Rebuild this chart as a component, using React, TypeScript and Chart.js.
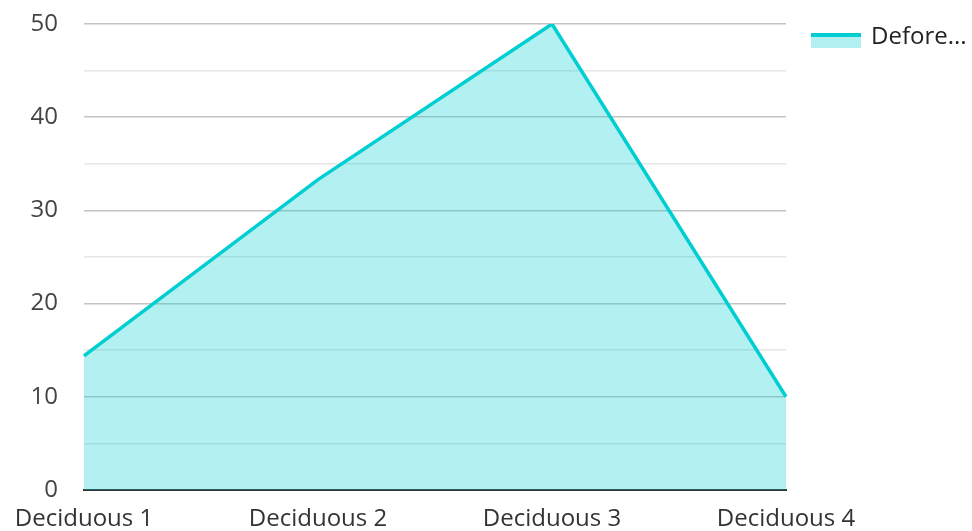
import React, { useEffect, useRef } from "react";
import { Chart, registerables } from "chart.js";

Chart.register(...registerables);

const categories = ["Deciduous 1", "Deciduous 2", "Deciduous 3", "Deciduous 4"];
const seriesName = "Defore...";
const seriesValues = [14.4, 33.3, 50, 10];
const yMin = 0;
const yMax = 50;
const yStep = 5;
const yLabelStep = 10;

const FONT = "'Open Sans', 'Noto Sans', sans-serif";
const LINE = "#00CED1";
const FILL = "rgba(0, 206, 209, 0.3)";

const legendPlugin = {
  id: "customLegend",
  afterDraw(chart: any) {
    const ctx = chart.ctx;
    const x = 811;
    const y = 33;
    ctx.save();
    ctx.fillStyle = FILL;
    ctx.fillRect(x, y, 50, 15);
    ctx.fillStyle = LINE;
    ctx.fillRect(x, y, 50, 4);
    ctx.fillStyle = "#222";
    ctx.font = `24px ${FONT}`;
    ctx.textBaseline = "middle";
    ctx.textAlign = "left";
    ctx.fillText(seriesName, x + 60, 37);
    ctx.restore();
  },
};

export default function App() {
  const ref = useRef<HTMLCanvasElement | null>(null);
  useEffect(() => {
    if (!ref.current) return;
    const chart = new Chart(ref.current, {
      type: "line",
      data: {
        labels: categories,
        datasets: [
          {
            label: seriesName,
            data: seriesValues,
            borderColor: LINE,
            backgroundColor: FILL,
            borderWidth: 3.5,
            fill: "origin",
            pointRadius: 0,
            tension: 0,
          },
        ],
      },
      options: {
        animation: false,
        responsive: true,
        maintainAspectRatio: false,
        layout: { padding: { top: 24, right: 186, left: 0, bottom: 0 } },
        plugins: { legend: { display: false }, tooltip: { enabled: false } },
        scales: {
          x: {
            offset: false,
            grid: { display: false, drawTicks: false },
            border: { display: true, color: "#333", width: 2 },
            ticks: { color: "#333", font: { family: FONT, size: 24 }, padding: 15, maxRotation: 0, autoSkip: false },
            afterFit: (s: any) => {
              s.height = 41;
              s.paddingLeft = 0;
              s.paddingRight = 0;
            },
          },
          y: {
            min: yMin,
            max: yMax,
            grid: {
              drawTicks: false,
              color: (c: any) => (c.tick && c.tick.value % yLabelStep === 0 ? "#c4c4c4" : "#e6e6e6"),
              lineWidth: 1.5,
            },
            border: { display: false },
            ticks: {
              stepSize: yStep,
              padding: 26,
              color: "#444",
              font: { family: FONT, size: 24 },
              callback: (v: any) => (Number(v) % yLabelStep === 0 ? String(v) : ""),
            },
            afterFit: (s: any) => {
              s.width = 84;
              s.paddingTop = 0;
              s.paddingBottom = 0;
            },
          },
        },
      },
      plugins: [legendPlugin],
    });
    return () => chart.destroy();
  }, []);
  return (
    <div style={{ position: "fixed", left: 0, top: 0, width: 972, height: 531, background: "#fff" }}>
      <canvas ref={ref} />
    </div>
  );
}
